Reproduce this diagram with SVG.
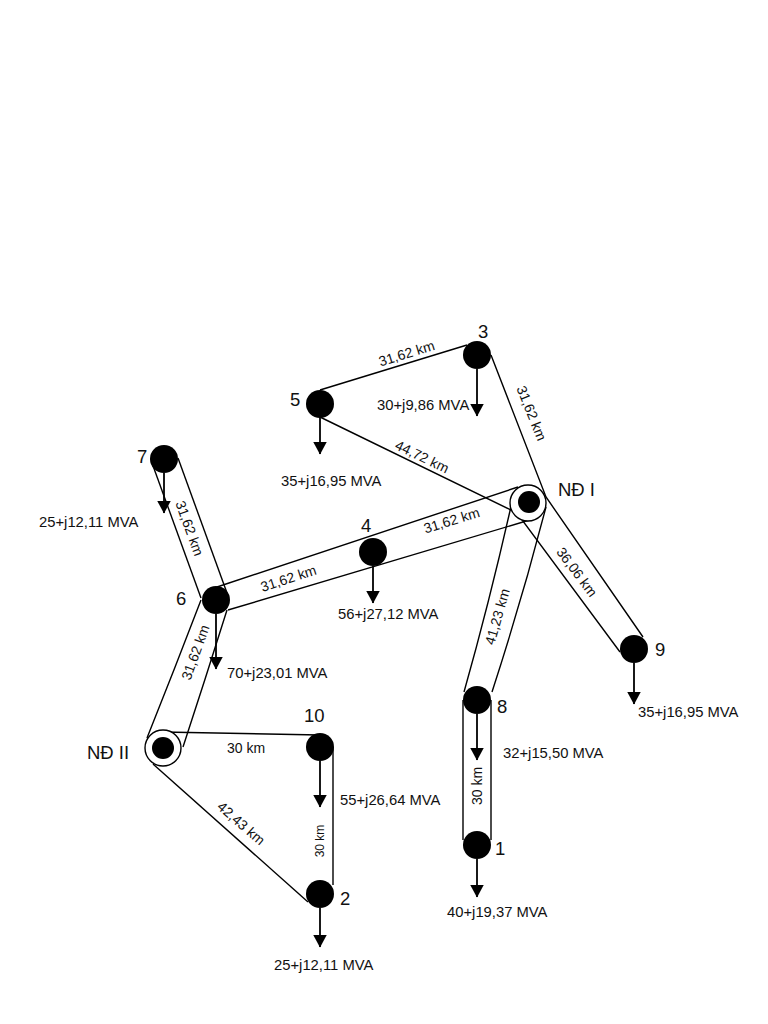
<svg xmlns="http://www.w3.org/2000/svg" width="768" height="1024" viewBox="0 0 768 1024">
<style>
text{font-family:"Liberation Sans",Arial,sans-serif;fill:#111}
.l{font-size:14.8px}
.d{font-size:14px;text-anchor:middle}
.n{font-size:18.5px}
.w{fill:none;stroke:#000;stroke-width:1.4}
.a{fill:none;stroke:#000;stroke-width:1.8}
.b{fill:#000}
</style>
<defs>
<marker id="ah" markerUnits="userSpaceOnUse" markerWidth="13" markerHeight="14" refX="12.5" refY="7" orient="auto" viewBox="0 0 13 14"><path d="M0 0L13 7L0 14Z" fill="#000"/></marker>
</defs>
<rect width="768" height="1024" fill="#fff"/>
<g id="connectors">
<path class="w" d="M320 390L467 345"/>
<path class="w" d="M491 355L546 497L643 637"/>
<path class="w" d="M320 417L517 513L620 652"/>
<path class="w" d="M217 587L518 487"/>
<path class="w" d="M228 610L533 519"/>
<path class="w" d="M152 463L201 598"/>
<path class="w" d="M178 458L227 593"/>
<path class="w" d="M201 600Q175 668 147 738"/>
<path class="w" d="M227 610Q205 680 183 747"/>
<path class="w" d="M162 732L320 735"/>
<path class="w" d="M153 764L308 902"/>
<path class="w" d="M333 747V885"/>
<path class="w" d="M512 502Q490 600 464 692"/>
<path class="w" d="M546 507Q522 600 492 692"/>
<path class="w" d="M463 700V840"/>
<path class="w" d="M491 700V840"/>
<path class="a" marker-end="url(#ah)" d="M477 369V416"/>
<path class="a" marker-end="url(#ah)" d="M320 417V454"/>
<path class="a" marker-end="url(#ah)" d="M164 473V513"/>
<path class="a" marker-end="url(#ah)" d="M216 614V669"/>
<path class="a" marker-end="url(#ah)" d="M373 566V603"/>
<path class="a" marker-end="url(#ah)" d="M634 663V704"/>
<path class="a" marker-end="url(#ah)" d="M477 714V760"/>
<path class="a" marker-end="url(#ah)" d="M477 859V897"/>
<path class="a" marker-end="url(#ah)" d="M320 761V807"/>
<path class="a" marker-end="url(#ah)" d="M320 908V947"/>
</g>
<g id="node-nd1"><circle cx="528" cy="503" r="18" fill="#fff" stroke="#000" stroke-width="1.4"/><circle class="b" cx="529" cy="502" r="11"/><text class="n" x="558" y="496">NĐ I</text></g>
<g id="node-nd2"><circle cx="163" cy="748" r="18" fill="#fff" stroke="#000" stroke-width="1.4"/><circle class="b" cx="163" cy="748" r="11"/><text class="n" x="87" y="759">NĐ II</text></g>
<g id="node-1"><circle class="b" cx="477" cy="845" r="14"/><text class="n" x="495" y="855">1</text></g>
<g id="node-2"><circle class="b" cx="320" cy="894" r="14"/><text class="n" x="340" y="905">2</text></g>
<g id="node-3"><circle class="b" cx="477" cy="355" r="14"/><text class="n" x="478" y="338">3</text></g>
<g id="node-4"><circle class="b" cx="373" cy="552" r="14"/><text class="n" x="361" y="532">4</text></g>
<g id="node-5"><circle class="b" cx="320" cy="404" r="14"/><text class="n" x="290" y="406">5</text></g>
<g id="node-6"><circle class="b" cx="216" cy="600" r="14"/><text class="n" x="176" y="605">6</text></g>
<g id="node-7"><circle class="b" cx="164" cy="459" r="14"/><text class="n" x="137" y="463">7</text></g>
<g id="node-8"><circle class="b" cx="477" cy="700" r="14"/><text class="n" x="497" y="713">8</text></g>
<g id="node-9"><circle class="b" cx="634" cy="649" r="14"/><text class="n" x="655" y="656">9</text></g>
<g id="node-10"><circle class="b" cx="320" cy="747" r="14"/><text class="n" x="304" y="722">10</text></g>
<g id="load-labels">
<text class="l" x="377" y="410">30+j9,86 MVA</text>
<text class="l" x="281" y="486">35+j16,95 MVA</text>
<text class="l" x="39" y="527">25+j12,11 MVA</text>
<text class="l" x="338" y="619">56+j27,12 MVA</text>
<text class="l" x="227" y="678">70+j23,01 MVA</text>
<text class="l" x="638" y="717">35+j16,95 MVA</text>
<text class="l" x="503" y="758">32+j15,50 MVA</text>
<text class="l" x="340" y="805">55+j26,64 MVA</text>
<text class="l" x="447" y="917">40+j19,37 MVA</text>
<text class="l" x="274" y="970">25+j12,11 MVA</text>
</g>
<g id="distance-labels">
<text class="d" transform="translate(408 358) rotate(-17)">31,62 km</text>
<text class="d" transform="translate(527 415) rotate(68)">31,62 km</text>
<text class="d" transform="translate(420 461) rotate(26)">44,72 km</text>
<text class="d" transform="translate(453 525) rotate(-17)">31,62 km</text>
<text class="d" transform="translate(290 583) rotate(-18)">31,62 km</text>
<text class="d" transform="translate(185 530) rotate(70)">31,62 km</text>
<text class="d" transform="translate(200 654) rotate(-70)">31,62 km</text>
<text class="d" transform="translate(502 618) rotate(-74)">41,23 km</text>
<text class="d" transform="translate(573 575) rotate(53)">36,06 km</text>
<text class="d" transform="translate(482 786) rotate(-90)">30 km</text>
<text class="d" x="246" y="753">30 km</text>
<text class="d" style="font-size:12px" transform="translate(324 841) rotate(-90)">30 km</text>
<text class="d" transform="translate(238 827) rotate(41)">42,43 km</text>
</g>
</svg>
